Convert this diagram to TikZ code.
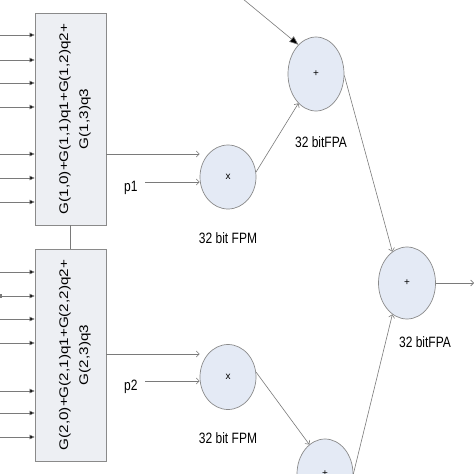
\documentclass[tikz,border=0pt]{standalone}
\usepackage{fontspec}
\setmainfont{Liberation Sans}
\usetikzlibrary{arrows.meta,shapes.geometric}
\definecolor{boxfill}{HTML}{EDEFF3}
\definecolor{ellfill}{HTML}{E4EAF5}
\definecolor{edge}{HTML}{8A8A8A}
\definecolor{wire}{HTML}{7A7A7A}
\newcommand{\vs}[1]{\scalebox{1}[1.25]{#1}}
\newcommand{\hs}[1]{\scalebox{1.22}[1]{#1}}
\tikzset{
  blk/.style={draw=edge, fill=boxfill, line width=0.7pt, minimum width=71pt, minimum height=212pt, inner sep=0pt},
  opnode/.style={ellipse, draw=edge, fill=ellfill, line width=0.7pt, inner sep=0pt, font=\fontsize{10}{12}\selectfont},
  inarr/.style={draw=wire, line width=0.6pt, -{Triangle[length=5pt,width=4.5pt,fill=black]}},
  oparr/.style={draw=wire, line width=0.6pt, -{Straight Barb[length=3pt,width=6pt]}},
  plain/.style={draw=wire, line width=0.6pt},
  lbl/.style={font=\fontsize{12}{14}\selectfont, inner sep=0pt},
  boxtxt/.style={rotate=90, align=center, inner sep=0pt, font=\fontsize{12.5}{20}\selectfont}
}
\begin{document}
\begin{tikzpicture}[x=1pt,y=-1pt]
\useasboundingbox (0,0) rectangle (474,474);
\clip (0,0) rectangle (474,474);
\fill[white] (0,0) rectangle (474,474);
% blocks
\node[blk] (b1) at (70.5,119) {};
\node[blk] (b2) at (70.5,355) {};
\node[boxtxt] (t1) at (75,119) {\hs{G(1,0)+G(1,1)q1+G(1,2)q2+}\\\hs{G(1,3)q3}};
\node[boxtxt] (t2) at (75,355) {\hs{G(2,0)+G(2,1)q1+G(2,2)q2+}\\\hs{G(2,3)q3}};
\draw[plain] (b1.south) -- (b2.south |- b2.north);
% operators
\node[opnode, minimum width=56pt, minimum height=64pt] (m1) at (228,177) {x};
\node[opnode, minimum width=56pt, minimum height=65pt] (m2) at (228,377) {x};
\node[opnode, minimum width=56pt, minimum height=74pt] (a1) at (316,74) {+};
\node[opnode, minimum width=57pt, minimum height=72pt] (a2) at (407,283) {+};
\node[opnode, minimum width=56pt, minimum height=70pt] (a3) at (325,474) {+};
% labels
\node[lbl] (l1) at (228,238) {\vs{32 bit FPM}};
\node[lbl] (l2) at (228,438) {\vs{32 bit FPM}};
\node[lbl] (l3) at (321,142) {\vs{32 bitFPA}};
\node[lbl] (l4) at (425,342) {\vs{32 bitFPA}};
\node[lbl, anchor=base west] (p1) at (124,191) {\vs{p1}};
\node[lbl, anchor=base west] (p2) at (124,390) {\vs{p2}};
% inputs block 1
\foreach \y [count=\i] in {35,60,83,107,154,178,202} {
  \coordinate (ia\i) at (0,\y);
  \draw[inarr] (ia\i) -- (ia\i -| b1.west);
}
\foreach \y [count=\i] in {272,296,319,343,391,413,437} {
  \coordinate (ib\i) at (0,\y);
  \draw[inarr] (ib\i) -- (ib\i -| b2.west);
}
\fill[wire] (0,294) rectangle (2,298);
% block outputs and p inputs
\coordinate (o1) at (b1.east |- 0,154);
\draw[oparr] (o1) -- (o1 -| m1.west);
\coordinate (o2) at (b2.east |- 0,354);
\draw[oparr] (o2) -- (o2 -| m2.west);
\coordinate (q1) at (145,182);
\draw[oparr] (q1) -- (q1 -| m1.west);
\coordinate (q2) at (145,381);
\draw[oparr] (q2) -- (q2 -| m2.west);
% tree
\coordinate (top) at (243,-1);
\draw[plain, -{Triangle[length=9pt,width=7pt,fill=black]}] (top) -- (a1.121);
\draw[oparr] (m1.10) -- (a1.239);
\draw[oparr] (m2.10) -- (a3.118);
\draw[oparr] (a1.-3) -- (a2.115);
\draw[oparr] (a3.east) -- (a2.245);
\coordinate (out) at (474,283);
\draw[oparr] (a2.east) -- (out);
\end{tikzpicture}
\end{document}
